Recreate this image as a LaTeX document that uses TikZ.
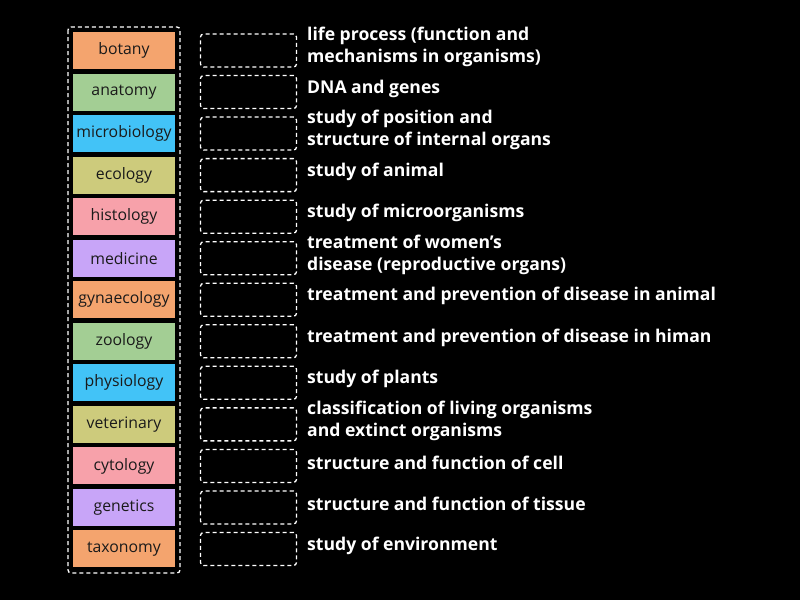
\documentclass[tikz,border=0pt]{standalone}
\usepackage{fontspec}
\setmainfont{Open Sans}
\definecolor{cO}{HTML}{F4A46E}
\definecolor{cG}{HTML}{A3CE94}
\definecolor{cC}{HTML}{42C3F7}
\definecolor{cY}{HTML}{CDCB7C}
\definecolor{cP}{HTML}{F7A1AA}
\definecolor{cV}{HTML}{C8A5F8}
\definecolor{ink}{HTML}{1A1A1A}
\begin{document}
\begin{tikzpicture}[x=1pt,y=-1pt,
  tile/.style={minimum width=102pt,minimum height=37pt,inner sep=0pt,font=\fontsize{15.8}{18}\selectfont,text=ink},
  slot/.style={draw=white,dash pattern=on 4pt off 3pt,line width=1.3pt,rounded corners=3pt,minimum width=96pt,minimum height=33pt,inner sep=0pt},
  lbl/.style={anchor=west,text=white,font=\bfseries\fontsize{17.6}{21.5}\selectfont,align=left,inner sep=0pt}]
\fill[black] (0,0) rectangle (800,600);
\useasboundingbox (0,0) rectangle (800,600);
\draw[white,dash pattern=on 4pt off 3pt,line width=1.3pt,rounded corners=3pt] (68,27) rectangle (180,573);
\foreach \t/\c [count=\i from 0] in {botany/cO,anatomy/cG,microbiology/cC,ecology/cY,histology/cP,medicine/cV,gynaecology/cO,zoology/cG,physiology/cC,veterinary/cY,cytology/cP,genetics/cV,taxonomy/cO}{
  \node[tile,fill=\c] (t\i) at (124,{50.5+41.54*\i}) {\t};
  \node[slot] (s\i) at (248.5,{50.5+41.54*\i}) {};
}
\foreach \t [count=\i from 0] in {
 {life process (function and\\mechanisms in organisms)},
 {DNA and genes},
 {study of position and\\structure of internal organs},
 {study of animal},
 {study of microorganisms},
 {treatment of women{\char39}s\\disease (reproductive organs)},
 {treatment and prevention of disease in animal},
 {treatment and prevention of disease in himan},
 {study of plants},
 {classification of living organisms\\and extinct organisms},
 {structure and function of cell},
 {structure and function of tissue},
 {study of environment}}{
  \node[lbl] (l\i) at (307,{47+41.54*\i}) {\t};
}
\end{tikzpicture}
\end{document}
